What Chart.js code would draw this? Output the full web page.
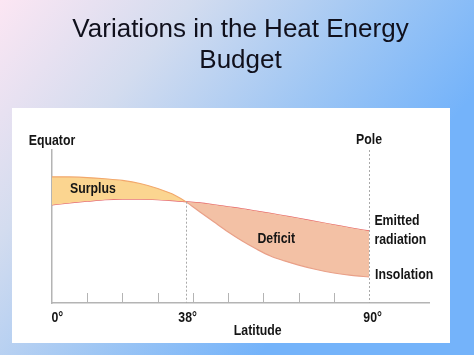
<!DOCTYPE html>
<html>
<head>
<meta charset="utf-8">
<script src="https://cdn.jsdelivr.net/npm/chart.js@4.4.1/dist/chart.umd.min.js"></script>
<style>
  html, body { margin: 0; padding: 0; background: #fff; }
  #wrap { width: 474px; height: 355px; }
</style>
</head>
<body>
<div id="wrap"><canvas id="c" width="474" height="355"></canvas></div>
<script>
// ---- data ----
const titleLines = ['Variations in the Heat Energy', 'Budget'];
const latitudes = [0, 5, 10, 15, 20, 25, 30, 35, 38, 42, 46, 50, 54, 58, 62, 66, 70, 75, 80, 85, 90];
const insolation = [82.5, 82.4, 82.0, 81.2, 80.1, 78.1, 74.8, 70.3, 66.2, 59.5, 52.9, 46.4, 40.5, 35.3, 30.7, 27.5, 24.8, 21.9, 19.6, 18.0, 17.0];
const emitted = [64.1, 65.4, 66.5, 67.5, 67.8, 67.8, 67.5, 66.8, 66.2, 65.4, 64.2, 62.9, 61.6, 60.1, 58.6, 57.0, 55.4, 53.2, 51.1, 49.0, 47.1];
const majorTicks = [0, 38, 90];
const tickLabels = ['0°', '38°', '90°'];
const minorTicks = [10, 20, 30, 40, 50, 60, 70, 80];
const crossLatitude = 38;
const poleLatitude = 90;

// annotation texts (anchored in data units)
const annotations = [
  { text: 'Equator', x: 0, y: 103.3, align: 'center' },
  { text: 'Pole', x: 90, y: 104, align: 'center' },
  { text: 'Surplus', x: 5.1, y: 71.9, align: 'left' },
  { text: 'Deficit', x: 58.3, y: 39.4, align: 'left' },
  { text: 'Emitted', x: 91.5, y: 51.0, align: 'left' },
  { text: 'radiation', x: 91.5, y: 38.6, align: 'left' },
  { text: 'Insolation', x: 91.7, y: 15.7, align: 'left' },
  { text: 'Latitude', x: 51.6, y: -20.9, align: 'left' }
];
const tickLabelValueY = -12.2;   // baseline of tick labels, in y units below the axis
const tickLabelShift = [1.5, 0.5, 1];  // small visual offsets of degree labels (in x units)

// ---- font helper: condensed bold ----
const probe = document.createElement('canvas').getContext('2d');
probe.font = 'bold 15px "Liberation Sans Narrow"';
const wN = probe.measureText('Equator').width;
probe.font = 'bold 15px "Liberation Sans"';
const wR = probe.measureText('Equator').width;
const hasNarrow = (wN / wR) > 0.75 && (wN / wR) < 0.88;
const narrowFamily = hasNarrow ? '"Liberation Sans Narrow"' : '"Liberation Sans", Arial';
const narrowScale = hasNarrow ? 1 : 0.82;

function drawNarrow(ctx, text, x, y, align) {
  ctx.save();
  ctx.font = 'bold 15px ' + narrowFamily;
  ctx.fillStyle = '#151515';
  ctx.textBaseline = 'alphabetic';
  ctx.textAlign = align;
  ctx.translate(x, y);
  ctx.scale(narrowScale, 1);
  ctx.fillText(text, 0, 0);
  ctx.restore();
}

const colors = {
  surplusFill: '#fbd590',
  deficitFill: '#f3c1a5',
  insolationSurplus: '#f2a86c',
  insolationDeficit: '#e9a088',
  emittedLine: '#e4606a',
  axis: '#b4b4b4',
  dashed: '#a9a9a9'
};

const backgroundPlugin = {
  id: 'bg',
  beforeDraw(chart) {
    const ctx = chart.ctx;
    const w = chart.width, h = chart.height;
    ctx.save();
    const g = ctx.createLinearGradient(0, 0, 330, 270);
    g.addColorStop(0, '#fce6f3');
    g.addColorStop(0.35, '#d3dcef');
    g.addColorStop(0.7, '#9ec6f4');
    g.addColorStop(1, '#74b3fa');
    ctx.fillStyle = g;
    ctx.fillRect(0, 0, w, h);
    ctx.fillStyle = '#ffffff';
    ctx.fillRect(12, 108, 438, 235);
    ctx.restore();
  }
};

const decorPlugin = {
  id: 'decor',
  afterDatasetsDraw(chart) {
    const ctx = chart.ctx;
    const xs = chart.scales.x, ys = chart.scales.y;
    const y0 = ys.getPixelForValue(0);
    ctx.save();
    // minor ticks pointing up
    ctx.strokeStyle = colors.axis;
    ctx.lineWidth = 1;
    minorTicks.forEach(v => {
      const px = Math.round(xs.getPixelForValue(v)) + 0.5;
      ctx.beginPath();
      ctx.moveTo(px, y0);
      ctx.lineTo(px, y0 - 10);
      ctx.stroke();
    });
    // dashed verticals
    ctx.strokeStyle = colors.dashed;
    ctx.setLineDash([2, 2]);
    const crossIdx = latitudes.indexOf(crossLatitude);
    let px = Math.round(xs.getPixelForValue(crossLatitude)) + 0.5;
    ctx.beginPath();
    ctx.moveTo(px, ys.getPixelForValue(emitted[crossIdx]));
    ctx.lineTo(px, y0);
    ctx.stroke();
    px = Math.round(xs.getPixelForValue(poleLatitude)) + 0.5;
    ctx.beginPath();
    ctx.moveTo(px, ys.getPixelForValue(ys.max));
    ctx.lineTo(px, y0);
    ctx.stroke();
    ctx.restore();
  },
  afterDraw(chart) {
    const ctx = chart.ctx;
    const xs = chart.scales.x, ys = chart.scales.y;
    majorTicks.forEach((v, i) => {
      drawNarrow(ctx, tickLabels[i], xs.getPixelForValue(v + tickLabelShift[i]), ys.getPixelForValue(tickLabelValueY), 'center');
    });
    annotations.forEach(a => {
      drawNarrow(ctx, a.text, xs.getPixelForValue(a.x), ys.getPixelForValue(a.y), a.align);
    });
  }
};

const toPoints = arr => latitudes.map((x, i) => ({ x, y: arr[i] }));

new Chart(document.getElementById('c'), {
  type: 'line',
  data: {
    datasets: [
      {
        label: 'Insolation',
        data: toPoints(insolation),
        borderWidth: 1.2,
        borderColor: colors.insolationSurplus,
        segment: {
          borderColor: c => (c.p0.parsed.x < crossLatitude ? colors.insolationSurplus : colors.insolationDeficit)
        },
        pointRadius: 0,
        cubicInterpolationMode: 'monotone',
        fill: { target: 1, above: colors.surplusFill, below: colors.deficitFill }
      },
      {
        label: 'Emitted radiation',
        data: toPoints(emitted),
        borderWidth: 1.2,
        borderColor: colors.emittedLine,
        pointRadius: 0,
        cubicInterpolationMode: 'monotone',
        fill: false
      }
    ]
  },
  options: {
    responsive: false,
    animation: false,
    devicePixelRatio: 1,
    layout: { padding: { left: 52, right: 45, top: 0, bottom: 52 } },
    plugins: {
      legend: { display: false },
      tooltip: { enabled: false },
      title: {
        display: true,
        text: titleLines,
        color: '#10101c',
        font: { family: '"Liberation Sans", Arial, sans-serif', size: 26, weight: 'normal', lineHeight: 1.2 },
        padding: { top: 14, bottom: 73.6 }
      }
    },
    scales: {
      x: {
        type: 'linear',
        min: 0,
        max: 107,
        afterBuildTicks: s => { s.ticks = majorTicks.map(v => ({ value: v })); },
        ticks: { display: false },
        grid: { display: false, drawTicks: false },
        border: { display: true, color: colors.axis, width: 1.5 }
      },
      y: {
        min: 0,
        max: 100,
        ticks: { display: false },
        grid: { display: false, drawTicks: false },
        border: { display: true, color: colors.axis, width: 1.5 }
      }
    }
  },
  plugins: [backgroundPlugin, decorPlugin]
});
</script>
</body>
</html>
